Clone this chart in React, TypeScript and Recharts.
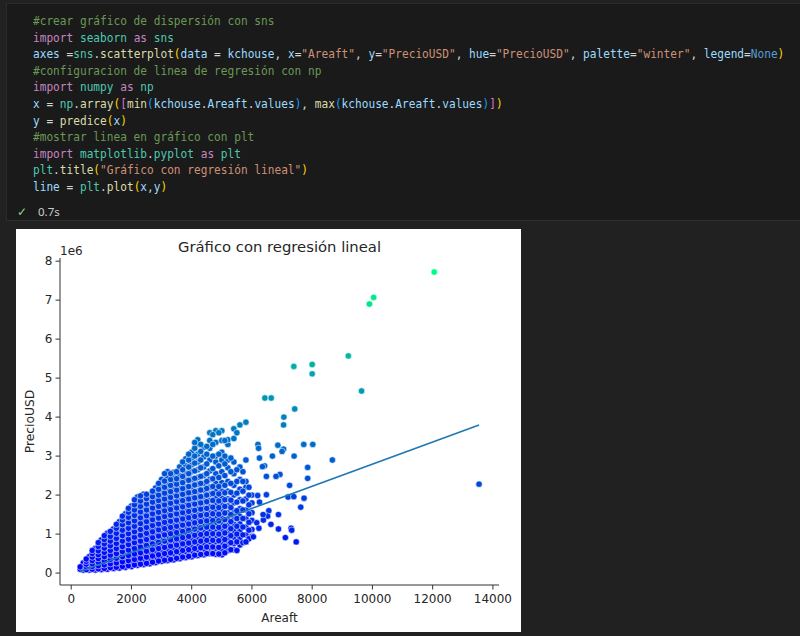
import { ScatterChart, Scatter, XAxis, YAxis } from 'recharts';

// sqft columns of the dense cloud (even hundreds) and the prices (millions USD) stacked in each
const CLOUD_AREA = [400, 600, 800, 1000, 1200, 1400, 1600, 1800, 2000, 2200, 2400, 2600, 2800, 3000, 3200, 3400, 3600, 3800, 4000, 4200, 4400, 4600, 4800, 5000, 5200, 5400, 5600, 5800, 6000];
const CLOUD_PRICE = [
  [0.08, 0.14, 0.2, 0.26],
  [0.08, 0.13, 0.19, 0.26, 0.34, 0.42],
  [0.08, 0.14, 0.21, 0.29, 0.37, 0.46, 0.55, 0.63],
  [0.09, 0.16, 0.24, 0.33, 0.42, 0.52, 0.62, 0.73, 0.85],
  [0.1, 0.18, 0.27, 0.37, 0.47, 0.58, 0.69, 0.8, 0.91, 1.02],
  [0.12, 0.2, 0.3, 0.41, 0.52, 0.64, 0.76, 0.88, 1.0, 1.13],
  [0.13, 0.23, 0.34, 0.46, 0.58, 0.7, 0.83, 0.96, 1.09, 1.22, 1.32],
  [0.15, 0.26, 0.38, 0.5, 0.63, 0.76, 0.89, 1.02, 1.15, 1.28, 1.4, 1.52],
  [0.17, 0.28, 0.4, 0.53, 0.66, 0.8, 0.94, 1.08, 1.22, 1.36, 1.5, 1.62, 1.72],
  [0.2, 0.31, 0.44, 0.57, 0.71, 0.85, 0.99, 1.13, 1.27, 1.41, 1.55, 1.68, 1.8, 1.95],
  [0.22, 0.34, 0.47, 0.61, 0.75, 0.9, 1.05, 1.2, 1.35, 1.5, 1.64, 1.78, 1.9, 2.02],
  [0.24, 0.37, 0.51, 0.65, 0.8, 0.95, 1.1, 1.25, 1.4, 1.55, 1.7, 1.84, 1.98],
  [0.27, 0.4, 0.54, 0.69, 0.84, 0.99, 1.14, 1.29, 1.44, 1.59, 1.74, 1.89, 2.03, 2.18],
  [0.3, 0.43, 0.58, 0.73, 0.88, 1.03, 1.18, 1.33, 1.48, 1.63, 1.78, 1.93, 2.08, 2.22, 2.4],
  [0.32, 0.46, 0.61, 0.76, 0.91, 1.06, 1.21, 1.36, 1.51, 1.66, 1.81, 1.96, 2.11, 2.26, 2.45, 2.6],
  [0.34, 0.49, 0.64, 0.79, 0.94, 1.09, 1.24, 1.39, 1.54, 1.69, 1.84, 1.99, 2.14, 2.3, 2.48, 2.58],
  [0.37, 0.52, 0.67, 0.82, 0.97, 1.12, 1.27, 1.42, 1.57, 1.72, 1.87, 2.02, 2.17, 2.33, 2.5, 2.72],
  [0.4, 0.55, 0.7, 0.85, 1.0, 1.15, 1.3, 1.45, 1.6, 1.75, 1.9, 2.05, 2.2, 2.38, 2.56, 2.75, 2.93],
  [0.42, 0.57, 0.72, 0.87, 1.02, 1.17, 1.32, 1.47, 1.62, 1.77, 1.92, 2.07, 2.22, 2.4, 2.6, 2.78, 2.95, 3.1],
  [0.45, 0.6, 0.75, 0.9, 1.05, 1.2, 1.35, 1.5, 1.65, 1.8, 1.95, 2.1, 2.28, 2.45, 2.65, 2.85, 3.05, 3.3, 3.42],
  [0.47, 0.62, 0.77, 0.92, 1.07, 1.22, 1.37, 1.52, 1.67, 1.82, 1.97, 2.13, 2.3, 2.5, 2.72, 2.98, 3.22],
  [0.5, 0.65, 0.8, 0.95, 1.1, 1.25, 1.4, 1.55, 1.7, 1.86, 2.02, 2.2, 2.4, 2.62, 2.9, 3.2, 3.4, 3.6],
  [0.48, 0.64, 0.8, 0.96, 1.12, 1.28, 1.44, 1.6, 1.76, 1.93, 2.1, 2.3, 2.55, 2.85, 3.0, 3.35, 3.65],
  [0.47, 0.62, 0.78, 0.94, 1.1, 1.26, 1.42, 1.58, 1.75, 1.92, 2.1, 2.32, 2.6, 2.9, 3.1, 3.4, 3.65],
  [0.58, 0.74, 0.9, 1.06, 1.22, 1.38, 1.55, 1.72, 1.9, 2.1, 2.35, 2.7, 2.9, 3.3, 3.42],
  [0.6, 0.76, 0.92, 1.08, 1.25, 1.42, 1.6, 1.8, 2.0, 2.25, 2.55, 2.85, 3.45, 3.7],
  [0.72, 0.9, 1.08, 1.26, 1.45, 1.65, 1.88, 2.15, 2.4, 2.72, 3.8],
  [0.8, 0.98, 1.18, 1.4, 1.62, 1.9, 2.2, 2.35, 2.9, 3.87],
  [0.94, 1.12, 1.35, 1.55, 1.8, 2.0],
];

// in-between columns (odd hundreds) of the same cloud
const CLOUD_AREA_MID = [300, 500, 700, 900, 1100, 1300, 1500, 1700, 1900, 2100, 2300, 2500, 2700, 2900, 3100, 3300, 3500, 3700, 3900, 4100, 4300, 4500, 4700, 4900, 5100, 5300, 5500, 5700, 5900];
const CLOUD_PRICE_MID = [
  [0.1, 0.16],
  [0.09, 0.16, 0.23, 0.3, 0.36],
  [0.1, 0.17, 0.24, 0.32, 0.41, 0.5, 0.58],
  [0.11, 0.19, 0.28, 0.37, 0.47, 0.57, 0.68, 0.78],
  [0.12, 0.21, 0.31, 0.42, 0.53, 0.64, 0.75, 0.86, 0.96],
  [0.14, 0.24, 0.35, 0.46, 0.58, 0.7, 0.82, 0.94, 1.07],
  [0.15, 0.26, 0.38, 0.5, 0.63, 0.76, 0.89, 1.02, 1.15, 1.25],
  [0.17, 0.29, 0.42, 0.55, 0.68, 0.82, 0.96, 1.1, 1.24, 1.36, 1.46],
  [0.19, 0.32, 0.45, 0.59, 0.73, 0.87, 1.01, 1.15, 1.29, 1.43, 1.56, 1.66],
  [0.21, 0.35, 0.49, 0.63, 0.78, 0.92, 1.06, 1.2, 1.34, 1.48, 1.62, 1.75, 1.88],
  [0.23, 0.38, 0.52, 0.67, 0.82, 0.97, 1.12, 1.27, 1.42, 1.57, 1.71, 1.85, 1.98],
  [0.25, 0.41, 0.56, 0.71, 0.86, 1.02, 1.17, 1.32, 1.47, 1.62, 1.77, 1.91, 2.02],
  [0.28, 0.44, 0.6, 0.75, 0.91, 1.06, 1.22, 1.37, 1.52, 1.67, 1.82, 1.96, 2.1],
  [0.31, 0.47, 0.63, 0.79, 0.95, 1.11, 1.26, 1.41, 1.56, 1.71, 1.86, 2.0, 2.15, 2.3],
  [0.33, 0.5, 0.66, 0.82, 0.98, 1.14, 1.3, 1.45, 1.6, 1.75, 1.9, 2.05, 2.2, 2.36, 2.55],
  [0.35, 0.52, 0.69, 0.85, 1.01, 1.17, 1.33, 1.48, 1.63, 1.79, 1.94, 2.09, 2.25, 2.4, 2.55],
  [0.38, 0.55, 0.72, 0.88, 1.04, 1.2, 1.36, 1.52, 1.67, 1.83, 1.98, 2.13, 2.28, 2.42, 2.6],
  [0.41, 0.58, 0.75, 0.91, 1.07, 1.23, 1.39, 1.55, 1.7, 1.86, 2.02, 2.17, 2.32, 2.48, 2.65, 2.85],
  [0.43, 0.6, 0.77, 0.94, 1.1, 1.26, 1.42, 1.58, 1.74, 1.9, 2.06, 2.22, 2.38, 2.55, 2.72, 2.9, 3.05],
  [0.46, 0.63, 0.8, 0.97, 1.13, 1.29, 1.45, 1.61, 1.77, 1.93, 2.09, 2.26, 2.43, 2.62, 2.82, 3.0, 3.2, 3.35],
  [0.48, 0.65, 0.82, 0.99, 1.16, 1.32, 1.48, 1.64, 1.8, 1.96, 2.13, 2.3, 2.48, 2.7, 2.9, 3.12, 3.3],
  [0.5, 0.67, 0.84, 1.01, 1.18, 1.34, 1.5, 1.66, 1.83, 2.0, 2.17, 2.35, 2.55, 2.8, 3.05, 3.25],
  [0.5, 0.67, 0.84, 1.01, 1.18, 1.35, 1.52, 1.69, 1.86, 2.04, 2.22, 2.42, 2.68, 3.0, 3.3, 3.55],
  [0.49, 0.66, 0.83, 1.0, 1.17, 1.34, 1.51, 1.68, 1.85, 2.03, 2.22, 2.45, 2.75, 3.05, 3.6],
  [0.52, 0.69, 0.86, 1.03, 1.2, 1.37, 1.54, 1.71, 1.88, 2.06, 2.25, 2.5, 2.8, 3.0, 3.4],
  [0.6, 0.78, 0.96, 1.14, 1.32, 1.5, 1.68, 1.87, 2.07, 2.3, 2.6, 2.95],
  [0.58, 0.8, 1.0, 1.2, 1.4, 1.6, 1.82, 2.05, 2.35, 2.65, 3.6],
  [0.78, 0.98, 1.18, 1.4, 1.62, 1.85, 2.1, 2.35, 2.6],
  [0.88, 1.1, 1.3, 1.52, 1.75, 2.0, 2.2],
];

// isolated houses outside the cloud
const OUTLIER_AREA = [12050, 9900, 10040, 9200, 8000, 8000, 7390, 9640, 6430, 6640, 7420, 7060, 7050, 6200, 6220, 6860, 7050, 7000, 7720, 8020, 7400, 6680, 8670, 6250, 7850, 7850, 6930, 6800, 6480, 6420, 6350, 7250, 13540, 6190, 6480, 6250, 7200, 7390, 7730, 7620, 6880, 6560, 6520, 6160, 6630, 6380, 6230, 6880, 7300, 7320, 7110, 7470, 6050, 5800, 6370];
const OUTLIER_PRICE = [7.72, 6.9, 7.07, 5.57, 5.35, 5.11, 5.3, 4.67, 4.49, 4.49, 4.21, 4.0, 3.8, 3.3, 3.2, 3.28, 3.18, 3.12, 3.3, 3.3, 3.0, 3.0, 2.9, 2.95, 2.71, 2.43, 2.53, 2.48, 2.48, 2.75, 2.73, 2.25, 2.28, 1.99, 2.01, 1.82, 1.95, 1.96, 1.92, 1.69, 1.5, 1.6, 1.46, 1.29, 1.25, 1.36, 1.15, 1.13, 1.15, 1.1, 0.91, 0.8, 0.93, 0.8, 1.5];

// predice(x) evaluated at min and max Areaft
const FIT_AREA = [290, 13540];
const FIT_PRICE = [0.04, 3.8];

const X_TICKS = [0, 2000, 4000, 6000, 8000, 10000, 12000, 14000];
const Y_TICKS = [0, 1, 2, 3, 4, 5, 6, 7, 8].map((v) => v * 1e6);

const PRICE_MIN = 0.075e6;
const PRICE_MAX = 7.7e6;

const toPoints = (areas: number[], prices: number[][]) =>
  areas.flatMap((area, i) => prices[i].map((p) => ({ area, price: p * 1e6 })));

const points = [
  ...toPoints(CLOUD_AREA, CLOUD_PRICE),
  ...toPoints(CLOUD_AREA_MID, CLOUD_PRICE_MID),
  ...OUTLIER_AREA.map((area, i) => ({ area, price: OUTLIER_PRICE[i] * 1e6 })),
];
const fitLine = FIT_AREA.map((area, i) => ({ area, price: FIT_PRICE[i] * 1e6 }));

// matplotlib "winter": blue -> spring green
function winter(price: number) {
  const t = Math.max(0, Math.min(1, (price - PRICE_MIN) / (PRICE_MAX - PRICE_MIN)));
  return `rgb(0, ${Math.round(255 * t)}, ${Math.round(255 * (1 - 0.5 * t))})`;
}

const Dot = (props: any) => {
  const { cx, cy, payload } = props;
  if (cx == null || cy == null) return <g />;
  return <circle cx={cx} cy={cy} r={3.2} fill={winter(payload.price)} stroke="#ffffff" strokeWidth={0.55} />;
};

const C = {
  cm: '#6A9955', kw: '#C586C0', mod: '#4EC9B0', v: '#9CDCFE', fn: '#DCDCAA',
  s: '#CE9178', k: '#569CD6', p: '#D4D4D4', b1: '#FFD700', b2: '#DA70D6', b3: '#179FFF',
};

const CODE: [string, string][][] = [
  [['#crear gráfico de dispersión con sns', C.cm]],
  [['import', C.kw], [' ', C.p], ['seaborn', C.mod], [' ', C.p], ['as', C.kw], [' ', C.p], ['sns', C.mod]],
  [
    ['axes', C.v], [' =', C.p], ['sns', C.mod], ['.', C.p], ['scatterplot', C.fn], ['(', C.b1],
    ['data', C.v], [' = ', C.p], ['kchouse', C.v], [', ', C.p], ['x', C.v], ['=', C.p], ['"Areaft"', C.s],
    [', ', C.p], ['y', C.v], ['=', C.p], ['"PrecioUSD"', C.s], [', ', C.p], ['hue', C.v], ['=', C.p],
    ['"PrecioUSD"', C.s], [', ', C.p], ['palette', C.v], ['=', C.p], ['"winter"', C.s], [', ', C.p],
    ['legend', C.v], ['=', C.p], ['None', C.k], [')', C.b1],
  ],
  [['#configuracion de linea de regresión con np', C.cm]],
  [['import', C.kw], [' ', C.p], ['numpy', C.mod], [' ', C.p], ['as', C.kw], [' ', C.p], ['np', C.mod]],
  [
    ['x', C.v], [' = ', C.p], ['np', C.mod], ['.', C.p], ['array', C.fn], ['(', C.b1], ['[', C.b2],
    ['min', C.fn], ['(', C.b3], ['kchouse', C.v], ['.', C.p], ['Areaft', C.v], ['.', C.p], ['values', C.v],
    [')', C.b3], [', ', C.p], ['max', C.fn], ['(', C.b3], ['kchouse', C.v], ['.', C.p], ['Areaft', C.v],
    ['.', C.p], ['values', C.v], [')', C.b3], [']', C.b2], [')', C.b1],
  ],
  [['y', C.v], [' = ', C.p], ['predice', C.fn], ['(', C.b1], ['x', C.v], [')', C.b1]],
  [['#mostrar linea en gráfico con plt', C.cm]],
  [
    ['import', C.kw], [' ', C.p], ['matplotlib', C.mod], ['.', C.p], ['pyplot', C.mod], [' ', C.p],
    ['as', C.kw], [' ', C.p], ['plt', C.mod],
  ],
  [['plt', C.mod], ['.', C.p], ['title', C.fn], ['(', C.b1], ['"Gráfico con regresión lineal"', C.s], [')', C.b1]],
  [
    ['line', C.v], [' = ', C.p], ['plt', C.mod], ['.', C.p], ['plot', C.fn], ['(', C.b1], ['x', C.v],
    [',', C.p], ['y', C.v], [')', C.b1],
  ],
];

const mpl = 'DejaVu Sans, sans-serif';
const ink = '#262626';

export default function App() {
  return (
    <div style={{ position: 'absolute', left: 0, top: 0, width: 800, height: 636, background: '#212121', overflow: 'hidden' }}>
      {/* notebook cell */}
      <div
        style={{
          position: 'absolute', left: 6, top: 3, width: 794, height: 218, background: '#1a1a1a',
          borderTop: '1px solid #2a2a2a', borderLeft: '1px solid #2a2a2a', borderBottom: '1px solid #303030',
          boxSizing: 'border-box',
        }}
      />
      <div
        style={{
          position: 'absolute', left: 33, top: 13, fontFamily: 'DejaVu Sans Mono, monospace', fontSize: 12.2,
          lineHeight: '16.6px', whiteSpace: 'pre', transform: 'scaleX(0.914)', transformOrigin: '0 0',
        }}
      >
        {CODE.map((line, i) => (
          <div key={i}>
            {line.map(([text, color], j) => (
              <span key={j} style={{ color }}>{text}</span>
            ))}
          </div>
        ))}
      </div>
      <div style={{ position: 'absolute', left: 17, top: 204, fontFamily: 'Noto Sans, sans-serif', fontSize: 11.5, color: '#cccccc' }}>
        <span style={{ color: '#89d185', marginRight: 11 }}>✓</span>0.7s
      </div>

      {/* figure */}
      <div style={{ position: 'absolute', left: 16, top: 229, width: 505, height: 403, background: '#ffffff' }}>
        <ScatterChart
          width={505}
          height={403}
          margin={{ top: 29, right: 22, bottom: 0, left: 0 }}
          style={{ fontFamily: mpl }}
        >
          <XAxis
            type="number"
            dataKey="area"
            domain={[-372, 14202]}
            ticks={X_TICKS}
            height={47}
            tickSize={4.5}
            tickMargin={5}
            tick={{ fill: ink, fontSize: 12 }}
            axisLine={{ stroke: '#333' }}
            tickLine={{ stroke: '#333' }}
            allowDataOverflow
            label={{ value: 'Areaft', position: 'insideBottom', offset: 10, fill: ink, fontSize: 12 }}
          />
          <XAxis xAxisId="top" type="number" orientation="top" height={0} tick={false} tickLine={false} axisLine={{ stroke: '#333' }} />
          <YAxis
            type="number"
            dataKey="price"
            domain={[-306000, 8081000]}
            ticks={Y_TICKS}
            width={44}
            tickSize={4.5}
            tickMargin={3}
            tick={{ fill: ink, fontSize: 12 }}
            tickFormatter={(v: number) => String(v / 1e6)}
            axisLine={{ stroke: '#333' }}
            tickLine={{ stroke: '#333' }}
            allowDataOverflow
            label={{ value: 'PrecioUSD', angle: -90, position: 'insideLeft', offset: 17, dx: -3.5, fill: ink, fontSize: 12.3, style: { textAnchor: 'middle' } }}
          />
          <YAxis yAxisId="right" type="number" orientation="right" width={0} tick={false} tickLine={false} axisLine={{ stroke: '#333' }} />
          <Scatter data={points} shape={<Dot />} isAnimationActive={false} />
          <Scatter
            data={fitLine}
            line={{ stroke: '#1f77b4', strokeWidth: 1.6 }}
            lineType="joint"
            shape={() => <g />}
            isAnimationActive={false}
          />
        </ScatterChart>
        <div style={{ position: 'absolute', left: 44, width: 439, top: 9, textAlign: 'center', fontFamily: mpl, fontSize: 14.8, color: ink }}>
          Gráfico con regresión lineal
        </div>
        <div style={{ position: 'absolute', left: 44, top: 15, fontFamily: mpl, fontSize: 12, color: ink }}>1e6</div>
      </div>
    </div>
  );
}
